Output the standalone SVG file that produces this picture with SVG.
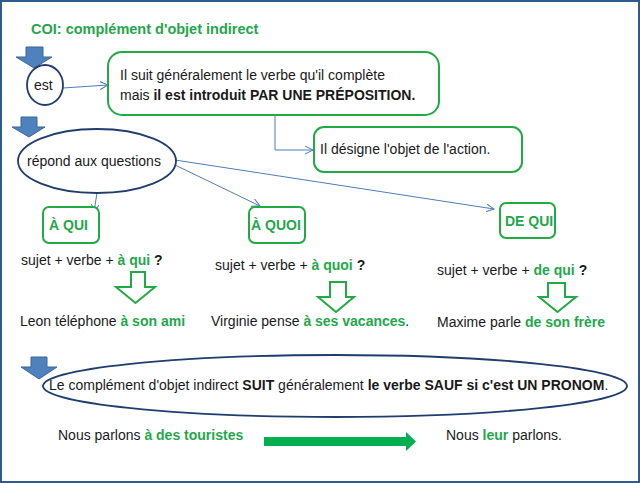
<svg xmlns="http://www.w3.org/2000/svg" width="640" height="483" viewBox="0 0 640 483">
<defs>
<marker id="ah" markerWidth="10" markerHeight="10" refX="8" refY="4" orient="auto" markerUnits="userSpaceOnUse"><path d="M0,0 L8,4 L0,8" fill="none" stroke="#4a7ebb" stroke-width="1"/></marker>
</defs>
<style>
text{font-family:"Liberation Sans",Arial,sans-serif;font-size:14px;fill:#1a1a1a}
.g{fill:#1fa84a;font-weight:bold}
.b{font-weight:bold}
.box{fill:#fff;stroke:#22aa44;stroke-width:2}
.ell{fill:#fff;stroke:#1f3d6e;stroke-width:1.8}
.con{fill:none;stroke:#4a7ebb;stroke-width:1;marker-end:url(#ah)}
.ba{fill:#4f81bd;stroke:#3a6698;stroke-width:1}
.ga{fill:#fff;stroke:#22aa44;stroke-width:2}
</style>
<rect x="0" y="0" width="640" height="483" fill="#fff"/>
<rect x="1" y="1" width="638" height="481" fill="none" stroke="#2f5a8c" stroke-width="2"/>
<text x="31" y="34" class="g" style="font-size:14.5px">COI: complément d'objet indirect</text>
<g id="arrow1"><path class="ba" d="M26,47 H43 V57 H52 L34,68 L16,57 H26 Z"/></g>
<g id="arrow2"><path class="ba" d="M21,117 H37 V127 H45 L29,137 L12,127 H21 Z"/></g>
<g id="arrow3"><path class="ba" d="M31,357 H47 V367 H57 L39,379 L21,367 H31 Z"/></g>
<g id="connectors">
<path class="con" d="M63,88 L108,85"/>
<path class="con" d="M275,115 V150 H313"/>
<path class="con" d="M97,193 L94,212"/>
<path class="con" d="M175,165 L260,206"/>
<path class="con" d="M175,160 L494,209"/>
</g>
<g id="est"><ellipse class="ell" cx="45" cy="85" rx="18" ry="20"/><text x="34" y="90">est</text></g>
<g id="box1"><rect class="box" x="108" y="52" width="331" height="63" rx="14"/>
<text x="120" y="80">Il suit généralement le verbe qu'il complète</text>
<text x="120" y="100">mais <tspan class="b">il est introduit PAR UNE PRÉPOSITION.</tspan></text></g>
<g id="box2"><rect class="box" x="314" y="127" width="208" height="45" rx="10"/><text x="320" y="154">Il désigne l'objet de l'action.</text></g>
<g id="repond"><ellipse class="ell" cx="97" cy="161" rx="79" ry="32"/><text x="27" y="166">répond aux questions</text></g>
<g id="aqui"><rect class="box" x="43" y="207" width="56" height="36" rx="6"/><text x="49" y="230" class="g">À QUI</text>
<text x="21" y="265">sujet + verbe + <tspan class="g">à qui</tspan> <tspan class="b">?</tspan></text>
<path class="ga" d="M131,272 H145 V287 H155 L135.5,303 L116,287 H131 Z"/>
<text x="20" y="326">Leon téléphone <tspan class="g">à son ami</tspan></text></g>
<g id="aquoi"><rect class="box" x="249" y="207" width="56" height="36" rx="6"/><text x="251" y="230" class="g">À QUOI</text>
<text x="215" y="270">sujet + verbe + <tspan class="g">à quoi</tspan> <tspan class="b">?</tspan></text>
<path class="ga" d="M330,282 H346 V297 H354 L336,312 L318,297 H330 Z"/>
<text x="211" y="326">Virginie pense <tspan class="g">à ses vacances</tspan>.</text></g>
<g id="dequi"><rect class="box" x="500" y="203" width="55" height="35" rx="6"/><text x="505" y="226" class="g">DE QUI</text>
<text x="437" y="275">sujet + verbe + <tspan class="g">de qui</tspan> <tspan class="b">?</tspan></text>
<path class="ga" d="M548,283 H565 V297 H576 L557.5,312 L539,297 H548 Z"/>
<text x="437" y="327">Maxime parle <tspan class="g">de son frère</tspan></text></g>
<g id="rule"><ellipse class="ell" cx="335" cy="386" rx="292" ry="31"/>
<text x="49" y="390">Le complément d'objet indirect <tspan class="b">SUIT</tspan> généralement <tspan class="b">le verbe SAUF si c'est UN PRONOM</tspan>.</text></g>
<g id="example"><text x="58" y="440">Nous parlons <tspan class="g">à des touristes</tspan></text>
<path d="M264,437 H406 V432 L416,441.5 L406,451 V446 H264 Z" fill="#00b050"/>
<text x="446" y="440">Nous <tspan class="g">leur</tspan> parlons.</text></g>
</svg>
